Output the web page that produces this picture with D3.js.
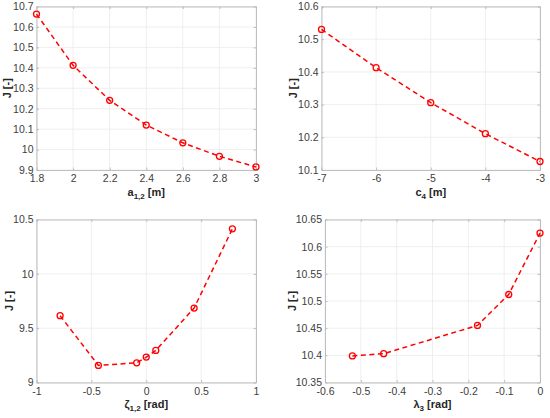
<!DOCTYPE html>
<html><head><meta charset="utf-8">
<script src="https://cdn.jsdelivr.net/npm/d3@7"></script>
<style>
body{margin:0;background:#fff;}
svg{display:block;font-family:"Liberation Sans",Arial,sans-serif;}
</style></head>
<body>
<svg id="chart" width="550" height="418"></svg>
<script>
// Panel 1: a_{1,2} [m]
const aX = [1.8, 2.0, 2.2, 2.4, 2.6, 2.8, 3.0];
const aJ = [10.663, 10.412, 10.241, 10.120, 10.033, 9.967, 9.915];
const aXTicks = [1.8, 2, 2.2, 2.4, 2.6, 2.8, 3];
const aYTicks = [9.9, 10, 10.1, 10.2, 10.3, 10.4, 10.5, 10.6, 10.7];

// Panel 2: c_4 [m]
const cX = [-7, -6, -5, -4, -3];
const cJ = [10.530, 10.413, 10.306, 10.211, 10.126];
const cXTicks = [-7, -6, -5, -4, -3];
const cYTicks = [10.1, 10.2, 10.3, 10.4, 10.5, 10.6];

// Panel 3: zeta_{1,2} [rad]
const zX = [-0.785, -0.436, -0.087, 0, 0.087, 0.436, 0.785];
const zJ = [9.615, 9.157, 9.181, 9.234, 9.295, 9.685, 10.414];
const zXTicks = [-1, -0.5, 0, 0.5, 1];
const zYTicks = [9, 9.5, 10, 10.5];

// Panel 4: lambda_3 [rad]
const lX = [-0.5236, -0.4363, -0.1745, -0.0873, 0];
const lJ = [10.399, 10.403, 10.455, 10.512, 10.625];
const lXTicks = [-0.6, -0.5, -0.4, -0.3, -0.2, -0.1, 0];
const lYTicks = [10.35, 10.4, 10.45, 10.5, 10.55, 10.6, 10.65];

const panels = [
  {x:aX, y:aJ, xd:[1.8,3], yd:[9.9,10.7], xt:aXTicks, yt:aYTicks,
   box:[36.5,256,6.5,170], ylx:7, xly:196, sym:"a", sub:"1,2", unit:" [m]"},
  {x:cX, y:cJ, xd:[-7,-3], yd:[10.1,10.6], xt:cXTicks, yt:cYTicks,
   box:[321.5,540,6.5,170], ylx:293, xly:196, sym:"c", sub:"4", unit:" [m]"},
  {x:zX, y:zJ, xd:[-1,1], yd:[9,10.5], xt:zXTicks, yt:zYTicks,
   box:[36.5,256,219.5,382.5], ylx:9, xly:408, sym:"ζ", sub:"1,2", unit:" [rad]"},
  {x:lX, y:lJ, xd:[-0.6,0], yd:[10.35,10.65], xt:lXTicks, yt:lYTicks,
   box:[325,540,219.5,382.5], ylx:292, xly:408, sym:"λ", sub:"3", unit:" [rad]"}
];

const svg = d3.select("#chart");
const fmt = v => d3.format("~g")(+v.toFixed(4)).replace("−","-");

panels.forEach(p => {
  const [x0,x1,y0,y1] = p.box;
  const xs = d3.scaleLinear().domain(p.xd).range([x0,x1]);
  const ys = d3.scaleLinear().domain(p.yd).range([y1,y0]);
  const g = svg.append("g");

  // grid
  g.append("g").selectAll("line").data(p.xt).join("line")
    .attr("x1",d=>xs(d)).attr("x2",d=>xs(d)).attr("y1",y0).attr("y2",y1)
    .attr("stroke","#ebebeb").attr("stroke-width",0.8);
  g.append("g").selectAll("line").data(p.yt).join("line")
    .attr("y1",d=>ys(d)).attr("y2",d=>ys(d)).attr("x1",x0).attr("x2",x1)
    .attr("stroke","#ebebeb").attr("stroke-width",0.8);

  // axes
  const tl = 2.5;
  const bx = g.append("g").attr("transform",`translate(0,${y1})`)
    .call(d3.axisBottom(xs).tickValues(p.xt).tickFormat(fmt).tickSizeInner(-tl).tickSizeOuter(0).tickPadding(5));
  const lx = g.append("g").attr("transform",`translate(${x0},0)`)
    .call(d3.axisLeft(ys).tickValues(p.yt).tickFormat(fmt).tickSizeInner(-tl).tickSizeOuter(0).tickPadding(3));
  const tx = g.append("g").attr("transform",`translate(0,${y0})`)
    .call(d3.axisTop(xs).tickValues(p.xt).tickFormat("").tickSizeInner(-tl).tickSizeOuter(0));
  const rx = g.append("g").attr("transform",`translate(${x1},0)`)
    .call(d3.axisRight(ys).tickValues(p.yt).tickFormat("").tickSizeInner(-tl).tickSizeOuter(0));
  [bx,lx,tx,rx].forEach(a => {
    a.select(".domain").attr("stroke","#b8b8b8").attr("stroke-width",0.9);
    a.selectAll(".tick line").attr("stroke","#b8b8b8").attr("stroke-width",0.9);
    a.selectAll("text").attr("fill","#404040").attr("font-size",10.5)
      .attr("font-family","'Liberation Sans',Arial,sans-serif");
  });

  // line
  const pts = p.x.map((v,i)=>[v,p.y[i]]);
  g.append("path").datum(pts)
    .attr("d", d3.line().x(d=>xs(d[0])).y(d=>ys(d[1])))
    .attr("fill","none").attr("stroke","#ff0000").attr("stroke-width",1.5)
    .attr("stroke-dasharray","5,3.5");
  g.append("g").selectAll("circle").data(pts).join("circle")
    .attr("cx",d=>xs(d[0])).attr("cy",d=>ys(d[1])).attr("r",3)
    .attr("fill","none").attr("stroke","#ff0000").attr("stroke-width",1.3);

  // y label
  g.append("text").attr("transform",`translate(${p.ylx},${(y0+y1)/2}) rotate(-90)`)
    .attr("text-anchor","middle").attr("dy","0.35em")
    .attr("font-size",11).attr("font-weight","bold").attr("fill","#262626")
    .text("J [-]");

  // x label
  const t = g.append("text").attr("x",(x0+x1)/2).attr("y",p.xly)
    .attr("text-anchor","middle").attr("font-size",11).attr("font-weight","bold").attr("fill","#262626");
  t.append("tspan").text(p.sym);
  t.append("tspan").attr("font-size",8).attr("dy",3).text(p.sub);
  t.append("tspan").attr("dy",-3).text(p.unit);
});
</script>
</body></html>
